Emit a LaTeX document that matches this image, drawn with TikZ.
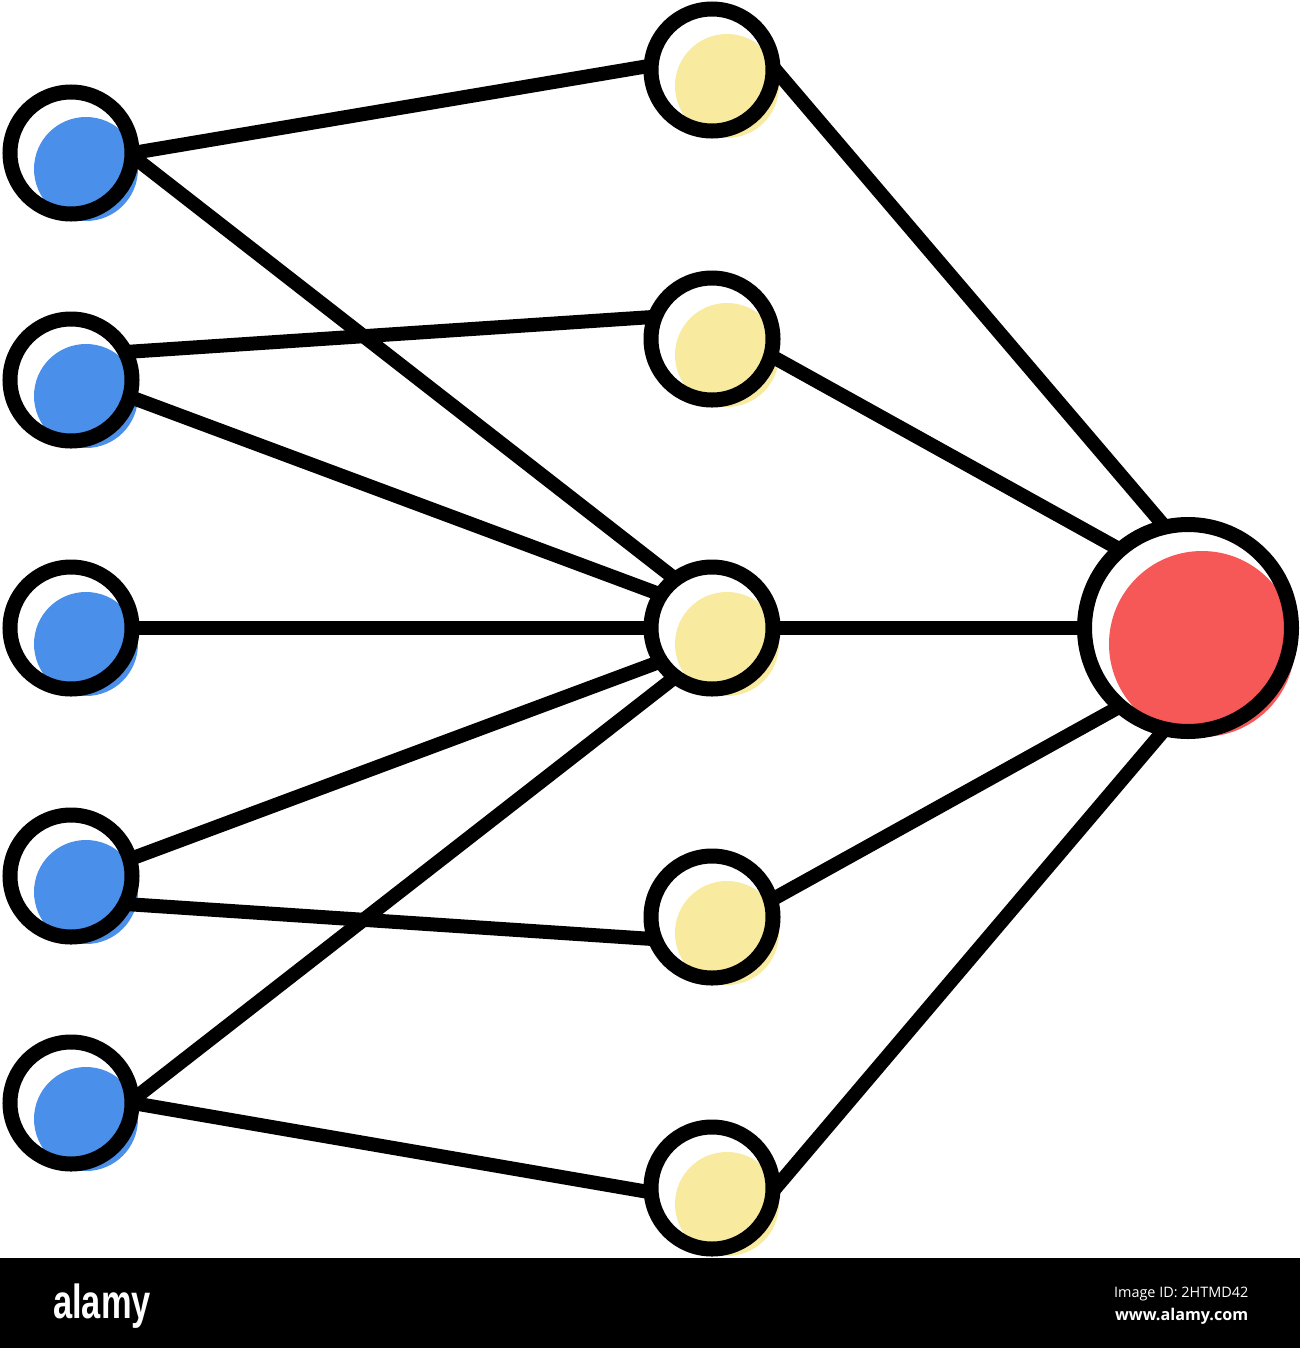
\documentclass[tikz,border=0pt]{standalone}
\usepackage{fontspec}
\setmainfont{Open Sans}
\newfontfamily\logofont{Liberation Sans}
\usepackage{tikz}
\usetikzlibrary{shapes,arrows,positioning}
\definecolor{inblue}{HTML}{4A8FEA}
\definecolor{hidyellow}{HTML}{F8EBA0}
\definecolor{outred}{HTML}{F65858}

\begin{document}
\begin{tikzpicture}[x=0.01cm, y=-0.01cm]
    % Define styles
    \tikzstyle{dot} = [circle, fill=white, minimum size=1.22cm, inner sep=0pt]
    \tikzstyle{bigdot} = [circle, fill=white, minimum size=2.07cm, inner sep=0pt]
    \tikzstyle{ring} = [line width=0.15cm]
    \tikzstyle{link} = [line width=0.14cm]
    \useasboundingbox (0,0) rectangle (1300,1348);

    % Nodes
    \node[dot] (in1) at (71,153) {};
    \node[dot] (in2) at (71,380) {};
    \node[dot] (in3) at (71,628) {};
    \node[dot] (in4) at (71,876) {};
    \node[dot] (in5) at (71,1103) {};
    \node[dot] (hid1) at (712,70) {};
    \node[dot] (hid2) at (712,339) {};
    \node[dot] (hid3) at (712,628) {};
    \node[dot] (hid4) at (712,917) {};
    \node[dot] (hid5) at (712,1188) {};
    \node[bigdot] (out) at (1188,628) {};

    % Fills
    \foreach \n in {in1,in2,in3,in4,in5}
        \fill[inblue] ([shift={(15,16)}]\n.center) circle (52);
    \foreach \n in {hid1,hid2,hid3,hid4,hid5}
        \fill[hidyellow] ([shift={(15,16)}]\n.center) circle (52);
    \fill[outred] ([shift={(14,16)}]out.center) circle (93);

    % Connections
    \draw[link] (in1.0) -- (hid1.176);
    \draw[link] (in1.-3) -- (hid3.127);
    \draw[link] (in2.27) -- (hid2.159);
    \draw[link] (in2.-16) -- (hid3.147);
    \draw[link] (in3.east) -- (hid3.west);
    \draw[link] (in4.16) -- (hid3.-147);
    \draw[link] (in4.-27) -- (hid4.-159);
    \draw[link] (in5.3) -- (hid3.-127);
    \draw[link] (in5.0) -- (hid5.-176);
    \draw[link] (hid1.2) -- (out.103);
    \draw[link] (hid2.-16) -- (out.131);
    \draw[link] (hid3.east) -- (out.west);
    \draw[link] (hid4.16) -- (out.-131);
    \draw[link] (hid5.-2) -- (out.-103);

    % Outlines
    \foreach \n in {in1,in2,in3,in4,in5,hid1,hid2,hid3,hid4,hid5}
        \draw[ring] (\n.center) circle (61);
    \draw[ring] (out.center) circle (103.5);

    % Bottom bar
    \fill[black] (0,1258) rectangle (1300,1348);
    \node[white, font=\logofont\bfseries\fontsize{13.6pt}{14pt}\selectfont] (logo) at (102,1306) {\scalebox{0.72}[1]{alamy}};
    \node[white, anchor=base east, inner sep=0pt, font=\fontsize{4.1pt}{5pt}\selectfont] (imageid) at (1249,1297) {Image ID: 2HTMD42};
    \node[white, anchor=base east, inner sep=0pt, font=\bfseries\fontsize{4.6pt}{5pt}\selectfont] (site) at (1249,1320) {www.alamy.com};
\end{tikzpicture}
\end{document}
